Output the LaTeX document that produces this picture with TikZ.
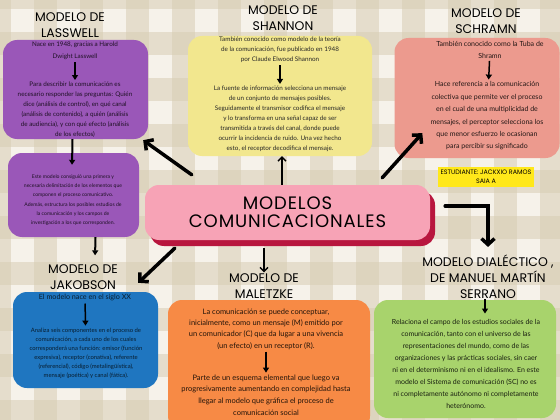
\documentclass[tikz,border=0pt]{standalone}
\usepackage{fontspec}
\setmainfont{Lato}
\newfontfamily\titlefont{Poppins}
\newfontfamily\bigfont[LetterSpace=5]{Poppins}
\usetikzlibrary{positioning,arrows.meta,shadows}

\definecolor{cream}{HTML}{F6F2EA}
\definecolor{plaid}{HTML}{D8CDB4}
\definecolor{lassv}{HTML}{9A57B8}
\definecolor{jakb}{HTML}{1F76C0}
\definecolor{shany}{HTML}{F2E78E}
\definecolor{schs}{HTML}{EC9A8E}
\definecolor{rosa}{HTML}{F7A3B6}
\definecolor{rosadark}{HTML}{B8163E}
\definecolor{malo}{HTML}{F78A45}
\definecolor{dialg}{HTML}{A8D36C}
\definecolor{stud}{HTML}{FFE81A}

\begin{document}
\begin{tikzpicture}[x=1pt,y=-1pt,
  card/.style={rounded corners=14pt,inner sep=0pt},
  head/.style={font=\titlefont\fontsize{12.5}{16}\selectfont,align=center,inner sep=0pt},
  body/.style={font=\fontsize{6.3}{10}\selectfont,align=center,inner sep=0pt},
  small/.style={-{Triangle[length=5pt,width=6pt]},line width=1.5pt,shorten <=2pt,shorten >=2pt},
  big/.style={-{Straight Barb[length=6pt,width=13pt]},line width=3.5pt,line cap=round},
  thin/.style={-{Straight Barb[length=4pt,width=8pt]},line width=1.4pt}]
  \useasboundingbox (0,0) rectangle (560,420);
  % background
  \fill[cream] (0,0) rectangle (560,420);
  \foreach \i in {0,...,12}{
    \fill[plaid,opacity=0.55] (\i*46-12,0) rectangle +(23,420);
    \fill[plaid,opacity=0.55] (0,\i*46-14) rectangle +(560,23);
  }

  % cards
  \node[card,fill=lassv,minimum width=145pt,minimum height=99pt] (lass) at (75.5,89.5) {};
  \node[card,fill=lassv,minimum width=131pt,minimum height=84pt] (lass2) at (73.5,195) {};
  \node[card,fill=jakb,minimum width=145pt,minimum height=96pt] (jak) at (85.5,340) {};
  \node[card,fill=shany,minimum width=184pt,minimum height=120pt] (shan) at (280,96) {};
  \node[card,fill=schs,minimum width=165pt,minimum height=120pt] (sch) at (477,98) {};
  \node[card,fill=malo,minimum width=202pt,minimum height=130pt] (mal) at (269,365) {};
  \node[card,fill=dialg,minimum width=182pt,minimum height=118pt] (dial) at (465,359) {};
  \node[card,fill=rosa,minimum width=285pt,minimum height=55pt,
    drop shadow={shadow xshift=5pt,shadow yshift=-6pt,fill=rosadark,opacity=1}] (center) at (287.5,212.5)
    {\bigfont\fontsize{18}{28}\selectfont\shortstack{MODELOS\\[2pt]COMUNICACIONALES}};

  % titles
  \node[head] (lasstitle) at (70,25) {MODELO DE\\LASSWELL};
  \node[head] (shantitle) at (283,18) {MODELO DE\\SHANNON};
  \node[head] (schtitle) at (486,21) {MODELO DE\\SCHRAMN};
  \node[head] (jaktitle) at (83,277) {MODELO DE\\JAKOBSON};
  \node[head] (maltitle) at (264,286) {MODELO DE\\MALETZKE};
  \node[head] (dialtitle) at (488,277) {MODELO DIAL\'ECTICO ,\\DE MANUEL MART\'IN\\SERRANO};

  % Lasswell
  \node[body,text=lassv!20!black,font=\fontsize{6.3}{12}\selectfont] (lasst1) at (75,51)
    {Nace en 1948, gracias a Harold\\Dwight Lasswell};
  \node[body,text=lassv!20!black] (lasst2) at (75,110)
    {Para describir la comunicaci\'on es\\necesario responder las preguntas: Qui\'en\\dice (an\'alisis de control), en qu\'e canal\\(an\'alisis de contenido), a qui\'en (an\'alisis\\de audiencia), y con qu\'e efecto (an\'alisis\\de los efectos)};
  \draw[small] (lasst1) -- (lasst2);
  \node[body,text=lassv!20!black,font=\fontsize{5.1}{9.2}\selectfont] (lass2t) at (73,200)
    {Este modelo consigui\'o una primera y\\necesaria delimitaci\'on de los elementos que\\componen el proceso comunicativo.\\Adem\'as, estructura los posibles estudios de\\la comunicaci\'on y los campos de\\investigaci\'on a los que corresponden.};

  % Jakobson
  \node[body,text=jakb!25!black,font=\fontsize{7.2}{10}\selectfont] (jakt1) at (85,298) {El modelo nace en el siglo XX};
  \node[body,text=jakb!25!black,font=\fontsize{5.9}{9}\selectfont] (jakt2) at (86,353)
    {Analiza seis componentes en el proceso de\\comunicaci\'on, a cada uno de los cuales\\corresponder\'a una funci\'on: emisor (funci\'on\\expresiva), receptor (conativa), referente\\(referencial), c\'odigo (metaling\"u\'istica),\\mensaje (po\'etica) y canal (f\'atica).};
  \draw[small] (jakt1) -- (jakt2);

  % Shannon
  \node[body,text=black!85] (shant1) at (280,50)
    {Tambi\'en conocido como modelo de la teor\'ia\\de la comunicaci\'on, fue publicado en 1948\\por Claude Elwood Shannon};
  \node[body,text=black!85] (shant2) at (280,119)
    {La fuente de informaci\'on selecciona un mensaje\\de un conjunto de mensajes posibles.\\Seguidamente el transmisor codifica el mensaje\\y lo transforma en una se\~nal capaz de ser\\transmitida a trav\'es del canal, donde puede\\ocurrir la incidencia de ruido. Una vez hecho\\esto, el receptor decodifica el mensaje.};
  \draw[small] (shant1) -- (shant2);

  % Schramn
  \node[body,text=schs!15!black,font=\fontsize{7}{12}\selectfont] (scht1) at (490,50)
    {Tambi\'en conocido como la Tuba de\\Shramn};
  \node[body,text=schs!15!black,font=\fontsize{7}{12.4}\selectfont] (scht2) at (487,116)
    {Hace referencia a la comunicaci\'on\\colectiva que permite ver el proceso\\en el cual de una multiplicidad de\\mensajes, el perceptor selecciona los\\que menor esfuerzo le ocasionan\\para percibir su significado};
  \draw[small] (scht1) -- (scht2);
  \node[fill=stud,inner sep=2.5pt,align=center,font=\titlefont\fontsize{6.4}{9.5}\selectfont] (student) at (486,177)
    {ESTUDIANTE: JACKXIO RAMOS\\SAIA A};

  % Maletzke
  \node[body,text=malo!15!black,font=\fontsize{7.5}{11.3}\selectfont] (malt1) at (266,329)
    {La comunicaci\'on se puede conceptuar,\\inicialmente, como un mensaje (M) emitido por\\un comunicador (C) que da lugar a una vivencia\\(un efecto) en un receptor (R).};
  \node[body,text=malo!15!black,font=\fontsize{7.5}{11.6}\selectfont] (malt2) at (266,395)
    {Parte de un esquema elemental que luego va\\progresivamente aumentando en complejidad hasta\\llegar al modelo que gr\'afica el proceso de\\comunicaci\'on social};
  \draw[small] (malt1) -- (malt2);

  % Dialectico
  \node[body,text=dialg!15!black,font=\fontsize{7}{11.9}\selectfont] (dialt) at (466,364)
    {Relaciona el campo de los estudios sociales de la\\comunicaci\'on, tanto con el universo de las\\representaciones del mundo, como de las\\organizaciones y las pr\'acticas sociales, sin caer\\ni en el determinismo ni en el idealismo. En este\\modelo el Sistema de comunicaci\'on (SC) no es\\ni completamente aut\'onomo ni completamente\\heter\'onomo.};
  \draw[small,shorten <=0pt] ([xshift=-3pt]dialtitle.south) -- ([xshift=-3pt,yshift=4pt]dialtitle.south |- dialt.north);

  % connectors
  \draw[small,line width=2pt,shorten <=0pt] ([xshift=-3pt]lass.south) -- ([xshift=-1.5pt,yshift=-14pt]lass2.north);
  \draw[small,line width=2pt,shorten <=0pt] ([xshift=22pt]lass2.south) -- ([xshift=12pt,yshift=7pt]jaktitle.north);
  \draw[big] ([xshift=47pt,yshift=10pt]center.north west) -- ([xshift=-5pt,yshift=-1pt]lass.south east);
  \draw[big] ([xshift=30pt,yshift=-8pt]center.south west) -- ([xshift=-20pt,yshift=9pt]jak.north east);
  \draw[big] ([xshift=-48pt,yshift=7pt]center.north east) -- ([xshift=28pt,yshift=25pt]sch.south west);
  \draw[thin] ([xshift=2pt]center.north -| shan.south) -- ([xshift=2pt]shan.south);
  \draw[thin,shorten <=8pt] (center.south -| maltitle.north) -- ([yshift=1pt]maltitle.north);
  \draw[big,line join=miter] ([xshift=15pt,yshift=6.5pt]center.east) -| ([yshift=8pt]dialtitle.north);
\end{tikzpicture}
\end{document}
